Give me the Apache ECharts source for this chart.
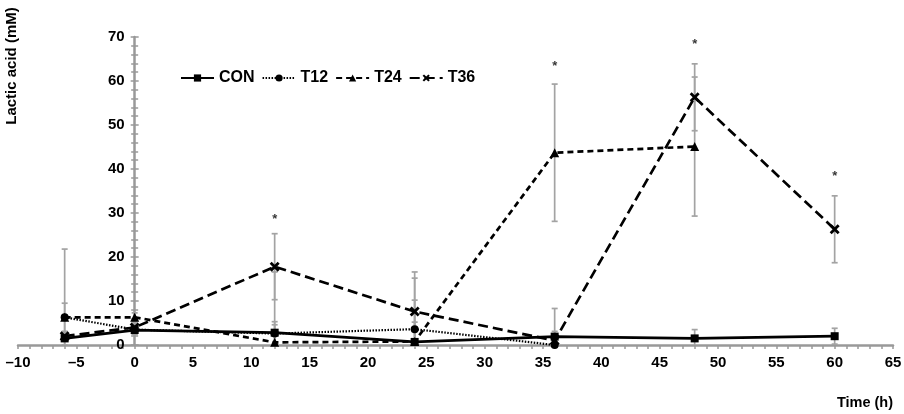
<!DOCTYPE html>
<html>
<head>
<meta charset="utf-8">
<script src="https://cdn.jsdelivr.net/npm/echarts@6/dist/echarts.min.js"></script>
<style>
html,body{margin:0;padding:0;background:#fff;}
#chart{width:904px;height:414px;}
</style>
</head>
<body>
<div id="chart"></div>
<script>
// ---- data ----
const times = [-6, 0, 12, 24, 36, 48, 60];
const conVals = [1.5, 3.4, 2.8, 0.7, 1.9, 1.5, 2.0];
const t12Vals = [6.3, 3.5, 2.6, 3.6, 0.0, null, null];
const t24Vals = [6.3, 6.3, 0.6, 0.8, 43.7, 45.1, null];
const t36Vals = [2.0, 4.0, 17.8, 7.6, 1.0, 56.3, 26.3];
const conErr = [1.5, 1.0, 2.5, 4.5, 1.2, 2.0, 1.8];
const t12Err = [15.5, 1.0, 14.0, 6.6, 0.0, null, null];
const t24Err = [3.2, 1.0, 4.0, 15.8, 15.6, 15.8, null];
const t36Err = [1.0, 1.0, 7.5, 7.6, 7.3, 7.6, 7.6];
const starTimes = [12, 36, 48, 60];
const starVals = [29.2, 64.0, 69.0, 39.0];
const xTicks = [-10, 65, 5];   // min, max, interval
const yTicks = [0, 70, 10];

const FONT = 'Liberation Sans, Arial, sans-serif';
const crossPath = 'path://M0,2 L2,0 L5,3 L8,0 L10,2 L7,5 L10,8 L8,10 L5,7 L2,10 L0,8 L3,5 Z';

function pairs(vals){
  const out = [];
  times.forEach((t,i)=>{ if(vals[i]!==null) out.push([t, vals[i]]); });
  return out;
}
function errData(vals, errs){
  const out = [];
  times.forEach((t,i)=>{ if(vals[i]!==null && errs[i]!==null) out.push([t, vals[i], errs[i]]); });
  return out;
}
const allErr = [].concat(errData(conVals,conErr), errData(t12Vals,t12Err), errData(t24Vals,t24Err), errData(t36Vals,t36Err));

function renderErr(params, api){
  const x = api.value(0), y = api.value(1), e = api.value(2);
  if (!e) return;
  const hi = y + e, lo = y - e;
  const pTop = api.coord([x, hi]);
  const pBot = api.coord([x, Math.max(lo, 0)]);
  const cw = 3;
  const st = {stroke:'#a3a3a3', lineWidth:1.7};
  const children = [
    {type:'line', shape:{x1:pTop[0],y1:pTop[1],x2:pBot[0],y2:pBot[1]}, style:st},
    {type:'line', shape:{x1:pTop[0]-cw,y1:pTop[1],x2:pTop[0]+cw,y2:pTop[1]}, style:st}
  ];
  if (lo >= 0) children.push({type:'line', shape:{x1:pBot[0]-cw,y1:pBot[1],x2:pBot[0]+cw,y2:pBot[1]}, style:st});
  return {type:'group', children};
}

const axisCol = '#999999';
const GRID_LEFT = 18, GRID_RIGHT = 11;
const chartW = 904;
// horizontal pixel position of x = 0 inside the grid, used to shift the y axis onto x = 0
const plotW = chartW - GRID_LEFT - GRID_RIGHT;
const yAxisShift = -plotW * (0 - xTicks[0]) / (xTicks[1] - xTicks[0]);

const chart = echarts.init(document.getElementById('chart'));
const labelStyle = {color:'#000', fontFamily:FONT, fontSize:15, fontWeight:'bold'};

const option = {
  backgroundColor:'#fff',
  animation:false,
  grid:{left:GRID_LEFT, right:GRID_RIGHT, top:37, bottom:69, containLabel:false, outerBoundsMode:'none'},
  legend:{
    data:['CON','T12','T24','T36'],
    left:175, top:65, orient:'horizontal',
    itemWidth:33, itemHeight:9, itemGap:7,
    textStyle:{color:'#000', fontFamily:FONT, fontSize:16, fontWeight:'bold'},
    inactiveColor:'#000'
  },
  xAxis:{
    type:'value', min:xTicks[0], max:xTicks[1], interval:xTicks[2],
    axisLine:{show:true, onZero:false, lineStyle:{color:axisCol, width:2.5}},
    axisTick:{show:true, length:4, lineStyle:{color:axisCol, width:1.5}},
    minorTick:{show:true, splitNumber:5, length:4, lineStyle:{color:axisCol, width:1.5}},
    splitLine:{show:false}, minorSplitLine:{show:false},
    axisLabel:Object.assign({margin:10, formatter:v=>String(v).replace('-', '\u2013')}, labelStyle)
  },
  yAxis:[{
    type:'value', min:yTicks[0], max:yTicks[1], interval:yTicks[2],
    position:'left', offset:yAxisShift,
    axisLine:{show:true, onZero:false, lineStyle:{color:axisCol, width:2.5}},
    axisTick:{show:true, length:4, lineStyle:{color:axisCol, width:1.5}},
    minorTick:{show:true, splitNumber:5, length:3.5, lineStyle:{color:axisCol, width:1.5}},
    splitLine:{show:false}, minorSplitLine:{show:false},
    axisLabel:Object.assign({margin:10}, labelStyle)
  },{
    type:'value', min:yTicks[0], max:yTicks[1], interval:yTicks[2],
    position:'left', offset:yAxisShift,
    axisLine:{show:false, onZero:false},
    axisTick:{show:true, inside:true, length:4, lineStyle:{color:axisCol, width:1.5}},
    minorTick:{show:true, splitNumber:5, length:3.5, lineStyle:{color:axisCol, width:1.5}},
    splitLine:{show:false}, minorSplitLine:{show:false},
    axisLabel:{show:false}
  }],
  graphic:[
    {type:'text', x:12, y:66, rotation:Math.PI/2,
     style:{text:'Lactic acid (mM)', fill:'#000', font:'bold 15px '+FONT, textAlign:'center', textVerticalAlign:'middle'}},
    {type:'text', x:893, y:403,
     style:{text:'Time (h)', fill:'#000', font:'bold 14.5px '+FONT, textAlign:'right', textVerticalAlign:'middle'}}
  ],
  series:[
    {type:'custom', name:'err', renderItem:renderErr, data:allErr, encode:{x:0,y:1}, z:1, silent:true, clip:true},
    {type:'line', name:'CON', data:pairs(conVals), symbol:'rect', symbolSize:8, showSymbol:true,
     lineStyle:{color:'#000', width:2.7, type:'solid'}, itemStyle:{color:'#000'}, z:3},
    {type:'line', name:'T12', data:pairs(t12Vals), symbol:'circle', symbolSize:8,
     lineStyle:{color:'#000', width:2.2, type:[1.5,1.5]}, itemStyle:{color:'#000'}, z:3},
    {type:'line', name:'T24', data:pairs(t24Vals), symbol:'triangle', symbolSize:9,
     lineStyle:{color:'#000', width:2.7, type:[6,4]}, itemStyle:{color:'#000'}, z:3},
    {type:'line', name:'T36', data:pairs(t36Vals), symbol:crossPath, symbolSize:10,
     lineStyle:{color:'#000', width:2.7, type:[10,5]}, itemStyle:{color:'#000'}, z:3},
    {type:'scatter', name:'stars', data:starTimes.map((t,i)=>[t, starVals[i]]), symbolSize:1,
     itemStyle:{color:'rgba(0,0,0,0)'}, silent:true, z:4,
     label:{show:true, formatter:'*', position:'inside', color:'#000', fontFamily:FONT, fontSize:13, fontWeight:'bold', offset:[0,3]}}
  ]
};
chart.setOption(option);
</script>
</body>
</html>
